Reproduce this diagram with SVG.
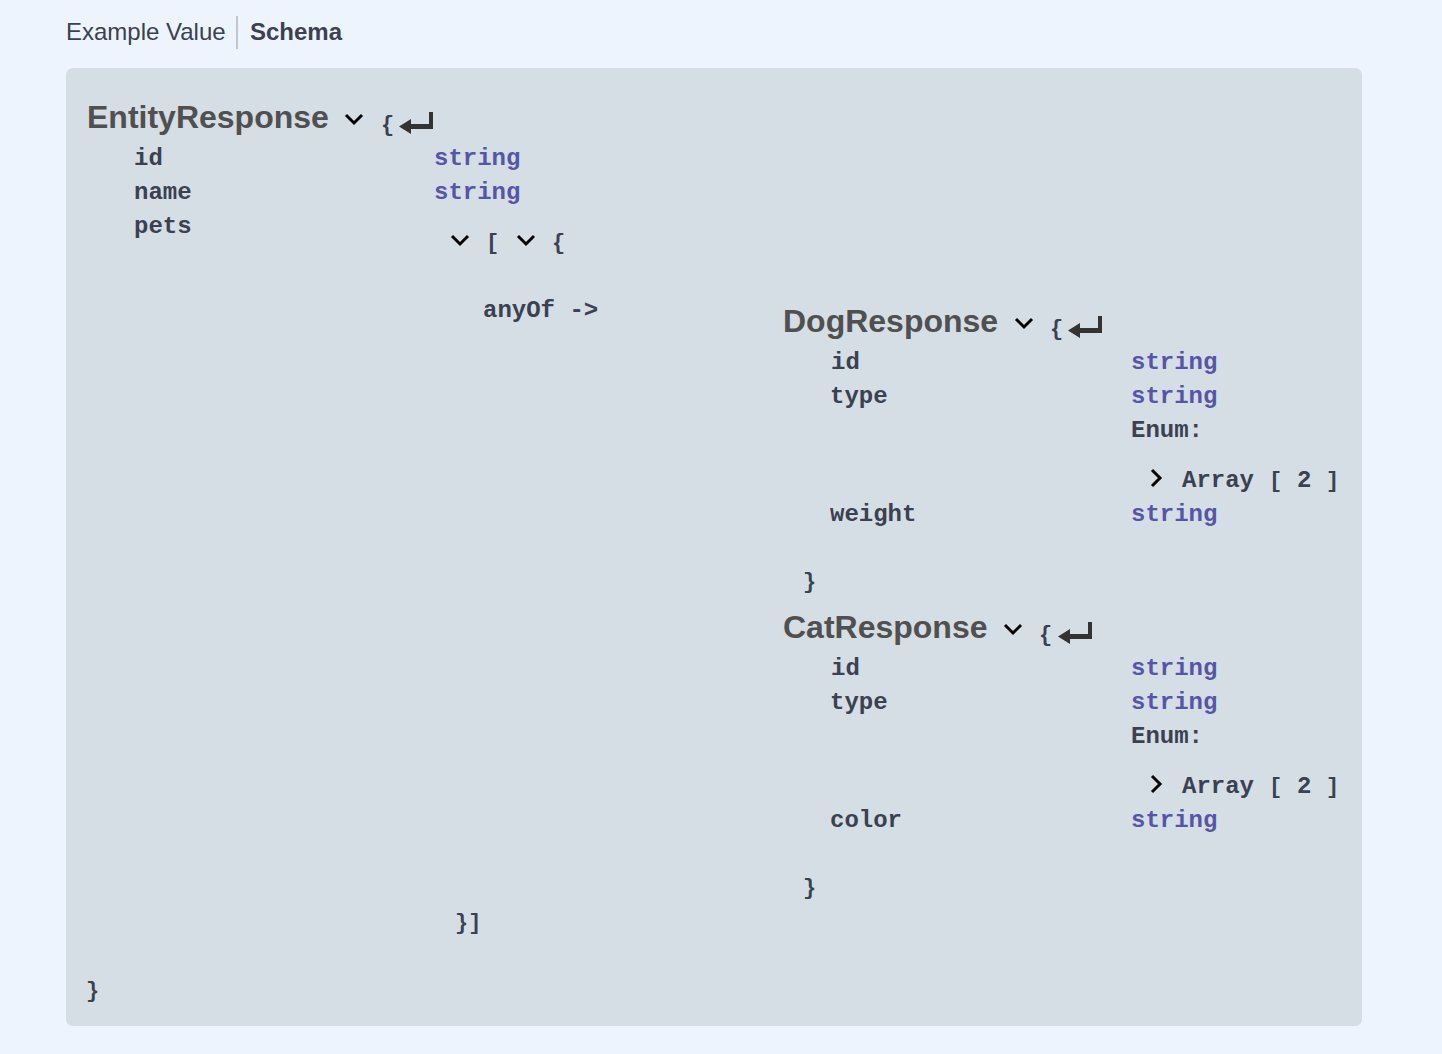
<svg xmlns="http://www.w3.org/2000/svg" width="1442" height="1054" viewBox="0 0 1442 1054">
<defs>
<style>
.tab{font-family:"Liberation Sans",Arial,sans-serif;font-size:24px;fill:#3b4151}
.title{font-family:"Liberation Sans",Arial,sans-serif;font-size:32px;font-weight:bold;fill:#505050}
.m{font-family:"Liberation Mono","Courier New",monospace;font-size:24px;font-weight:bold;fill:#3b4151}
.t{font-family:"Liberation Mono","Courier New",monospace;font-size:24px;font-weight:bold;fill:#5555aa}
.br{font-family:"Liberation Mono","Courier New",monospace;font-size:22px;font-weight:bold;fill:#3b4151}
.chev{fill:none;stroke:#000;stroke-width:3}
.ret{fill:#333}
</style>
<path id="down" class="chev" d="M0 0 L8 8 L16 0"/>
<path id="right" class="chev" d="M0 0 L8 8 L0 16"/>
<path id="retn" class="ret" d="M30 0 H34 V17 H12 V22 L0 14.5 L12 7 V12 H30 Z"/>
</defs>
<rect width="1442" height="1054" fill="#edf4fe"/>
<g id="tabs">
<text class="tab" x="66" y="40">Example Value</text>
<line x1="237" y1="16" x2="237" y2="49" stroke="#c1c7cd" stroke-width="2"/>
<text class="tab" x="250" y="40" font-weight="bold">Schema</text>
</g>
<rect id="panel" x="66" y="68" width="1296" height="958" rx="7" fill="#d5dde5"/>
<g id="entity">
<text class="title" x="87" y="128">EntityResponse</text>
<use href="#down" x="346" y="115"/>
<text class="br" x="381" y="131">{</text>
<use href="#retn" x="399" y="112"/>
<text class="m" x="134" y="165">id</text>
<text class="t" x="434" y="165">string</text>
<text class="m" x="134" y="199">name</text>
<text class="t" x="434" y="199">string</text>
<text class="m" x="134" y="233">pets</text>
<use href="#down" x="452" y="236"/>
<text class="br" x="486" y="249">[</text>
<use href="#down" x="518" y="236"/>
<text class="br" x="552" y="249">{</text>
<text class="m" x="483" y="317">anyOf -&gt;</text>
<text class="br" x="455" y="929">}]</text>
<text class="br" x="86" y="997">}</text>
</g>
<g id="dog">
<text class="title" x="783" y="332">DogResponse</text>
<use href="#down" x="1016" y="319"/>
<text class="br" x="1050" y="335">{</text>
<use href="#retn" x="1068" y="316"/>
<text class="m" x="831" y="369">id</text>
<text class="t" x="1131" y="369">string</text>
<text class="m" x="830" y="403">type</text>
<text class="t" x="1131" y="403">string</text>
<text class="m" x="1131" y="437">Enum:</text>
<use href="#right" x="1152" y="470"/>
<text class="m" x="1182" y="487">Array</text>
<text class="br" x="1269" y="487">[</text>
<text class="m" x="1297" y="487">2</text>
<text class="br" x="1326" y="487">]</text>
<text class="m" x="830" y="521">weight</text>
<text class="t" x="1131" y="521">string</text>
<text class="br" x="803" y="588">}</text>
</g>
<g id="cat">
<text class="title" x="783" y="638">CatResponse</text>
<use href="#down" x="1005" y="625"/>
<text class="br" x="1039" y="641">{</text>
<use href="#retn" x="1058" y="622"/>
<text class="m" x="831" y="675">id</text>
<text class="t" x="1131" y="675">string</text>
<text class="m" x="830" y="709">type</text>
<text class="t" x="1131" y="709">string</text>
<text class="m" x="1131" y="743">Enum:</text>
<use href="#right" x="1152" y="776"/>
<text class="m" x="1182" y="793">Array</text>
<text class="br" x="1269" y="793">[</text>
<text class="m" x="1297" y="793">2</text>
<text class="br" x="1326" y="793">]</text>
<text class="m" x="830" y="827">color</text>
<text class="t" x="1131" y="827">string</text>
<text class="br" x="803" y="894">}</text>
</g>
<g id="connectors"/>
</svg>
